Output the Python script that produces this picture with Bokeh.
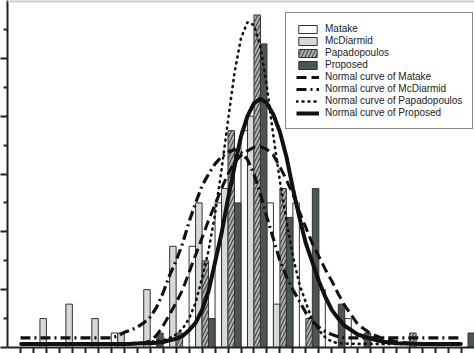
from bokeh.plotting import figure
from bokeh.models import (FixedTicker, Legend, LegendItem, ColumnDataSource, Span, Range1d,
                          CustomLabelingPolicy)
from bokeh.embed import file_html
from bokeh.resources import INLINE

# ---- data ----
bins = list(range(18))
matake       = [0, 0, 0, 0, 1, 0, 0, 7, 10, 15, 10, 10, 4, 2, 0, 0, 0, 0]
mcdiarmid    = [0, 2, 3, 2, 1, 4, 7, 10, 11, 16, 3, 0, 0, 0, 0, 0, 0, 0]
papadopoulos = [0, 0, 0, 0, 0, 0, 1, 6, 15, 23, 11, 2, 0, 0, 0, 1, 0, 0]
proposed     = [0, 0, 0, 0, 0, 1, 0, 2, 10, 21, 9, 11, 3, 1, 0, 0, 0, 1]

curve_x = [0.5, 1.0, 1.5, 2.0, 2.5, 3.0, 3.5, 4.0,
           4.25, 4.5, 4.75, 5.0, 5.25, 5.5, 5.75, 6.0, 6.25, 6.5, 6.75, 7.0,
           7.25, 7.5, 7.75, 8.0, 8.25, 8.5, 8.75, 9.0, 9.25, 9.5, 9.75, 10.0,
           10.25, 10.5, 10.75, 11.0, 11.25, 11.5, 11.75, 12.0, 12.25, 12.5, 12.75, 13.0,
           13.5, 14.0, 14.5, 15.0, 15.5, 16.0, 16.5, 17.0, 17.5]
curve_matake = [0.25, 0.25, 0.25, 0.25, 0.25, 0.25, 0.25, 0.25,
                0.25, 0.25, 0.25, 0.26, 0.3, 0.45, 0.85, 1.5, 2.3, 3.1, 4.0, 5.2,
                6.4, 7.6, 8.8, 9.9, 11.0, 12.0, 12.8, 13.3, 13.6, 13.85, 13.9, 13.7,
                13.3, 12.5, 11.6, 10.6, 9.4, 8.3, 7.2, 6.3, 5.4, 4.6, 3.7, 2.9,
                1.6, 0.95, 0.6, 0.4, 0.3, 0.25, 0.25, 0.25, 0.25]
curve_mcdiarmid = [0.67, 0.67, 0.67, 0.67, 0.67, 0.67, 0.67, 0.67,
                   0.8, 1.05, 1.2, 1.4, 1.7, 2.1, 2.8, 3.8, 5.0, 6.0, 7.2, 8.7,
                   10.0, 11.2, 12.0, 12.7, 13.2, 13.5, 13.7, 13.5, 13.0, 12.0, 10.6, 9.0,
                   7.5, 6.0, 4.9, 4.0, 3.2, 2.4, 1.8, 1.4, 1.1, 0.9, 0.75, 0.67,
                   0.67, 0.67, 0.67, 0.67, 0.67, 0.67, 0.67, 0.67, 0.67]
curve_papadopoulos = [0.25, 0.25, 0.25, 0.25, 0.25, 0.25, 0.25, 0.25,
                      0.25, 0.25, 0.27, 0.3, 0.35, 0.4, 0.45, 0.5, 0.65, 0.9, 1.3, 2.0,
                      3.1, 4.8, 6.7, 9.2, 12.3, 15.7, 19.0, 21.4, 22.5, 22.3, 20.8, 18.0,
                      14.6, 11.5, 8.8, 6.3, 4.4, 3.1, 1.9, 1.2, 0.7, 0.4, 0.3, 0.27,
                      0.25, 0.25, 0.25, 0.25, 0.25, 0.25, 0.25, 0.25, 0.25]
curve_proposed = [0.25, 0.25, 0.25, 0.25, 0.25, 0.25, 0.25, 0.25,
                  0.25, 0.25, 0.26, 0.28, 0.29, 0.3, 0.33, 0.38, 0.5, 0.6, 0.8, 1.2,
                  1.7, 2.6, 3.9, 5.9, 7.9, 10.3, 12.5, 14.6, 16.0, 16.9, 17.2, 16.9,
                  16.1, 14.9, 13.2, 11.0, 9.0, 7.2, 5.9, 4.6, 3.5, 2.6, 2.0, 1.5,
                  0.9, 0.6, 0.4, 0.3, 0.27, 0.25, 0.25, 0.25, 0.25]

x_ticks = [i / 2 for i in range(1, 36)]
y_major = [0, 4, 8, 12, 16, 20]
y_minor = [2, 6, 10, 14, 18, 22]

# ---- figure ----
p = figure(width=474, height=353, x_range=Range1d(0, 18), y_range=Range1d(0, 24.0),
           output_backend="svg", toolbar_location=None, min_border=0)
p.xgrid.visible = False
p.ygrid.visible = False
p.outline_line_color = None
p.background_fill_color = "white"
p.border_fill_color = "white"

# the reference is cropped: tick marks only, no tick labels
no_labels = "for (const i of indices) { indices.unset(i) } return indices"

ax = p.yaxis[0]
ax.ticker = FixedTicker(ticks=y_major, minor_ticks=y_minor)
ax.major_tick_out = 7
ax.major_tick_in = 0
ax.minor_tick_out = 4
ax.minor_tick_in = 0
ax.major_label_policy = CustomLabelingPolicy(code=no_labels)
ax.major_label_text_font_size = "0px"
ax.major_label_standoff = 0
ax.axis_line_width = 2
ax.axis_line_color = "#222222"
ax.major_tick_line_color = "#222222"
ax.minor_tick_line_color = "#222222"
ax.major_tick_line_width = 2
ax.minor_tick_line_width = 2

bx = p.xaxis[0]
bx.ticker = FixedTicker(ticks=x_ticks)
bx.major_tick_out = 6
bx.major_tick_in = 0
bx.minor_tick_out = 0
bx.minor_tick_in = 0
bx.major_label_policy = CustomLabelingPolicy(code=no_labels)
bx.major_label_text_font_size = "0px"
bx.major_label_standoff = 0
bx.axis_line_width = 2
bx.axis_line_color = "#222222"
bx.major_tick_line_color = "#222222"
bx.major_tick_line_width = 2

series = [
    ("Matake", matake, dict(fill_color="#ffffff")),
    ("McDiarmid", mcdiarmid, dict(fill_color="#d5d9d9")),
    ("Papadopoulos", papadopoulos, dict(fill_color="#a9b2b2", hatch_pattern="/",
                                       hatch_color="#303030", hatch_scale=7, hatch_weight=1)),
    ("Proposed", proposed, dict(fill_color="#4b5555")),
]
items = []
for j, (name, vals, style) in enumerate(series):
    xs = [b + (j + 0.5) / 4 for b, v in zip(bins, vals) if v > 0]
    tops = [v for v in vals if v > 0]
    src = ColumnDataSource(dict(x=xs, top=tops))
    r = p.vbar(x="x", top="top", bottom=0, width=0.25, source=src,
               line_color="#333333", line_width=1, **style)
    items.append(LegendItem(label=name, renderers=[r]))

curves = [
    ("Normal curve of Matake", curve_matake, dict(line_width=3, line_dash="10 5")),
    ("Normal curve of McDiarmid", curve_mcdiarmid, dict(line_width=3.2, line_dash="10 4 2 4")),
    ("Normal curve of Papadopoulos", curve_papadopoulos,
     dict(line_width=2.6, line_dash="1 5", line_cap="round")),
    ("Normal curve of Proposed", curve_proposed, dict(line_width=4)),
]
for name, ys, style in curves:
    r = p.line(curve_x, ys, line_color="#111111", **style)
    items.append(LegendItem(label=name, renderers=[r]))

p.add_layout(Span(location=24.0, dimension="width", line_color="#cccccc", line_width=4))

legend = Legend(items=items, location=(278, 218))
legend.padding = 10
legend.spacing = 1
legend.margin = 0
legend.glyph_height = 10
legend.glyph_width = 23
legend.label_height = 10
legend.label_standoff = 6
legend.label_text_font = "Liberation Sans"
legend.label_text_font_size = "10px"
legend.label_text_color = "#222222"
legend.border_line_color = "#111111"
legend.border_line_width = 1
legend.background_fill_color = "white"
legend.background_fill_alpha = 1
p.add_layout(legend)

open("out.html", "w").write(file_html(p, INLINE))
